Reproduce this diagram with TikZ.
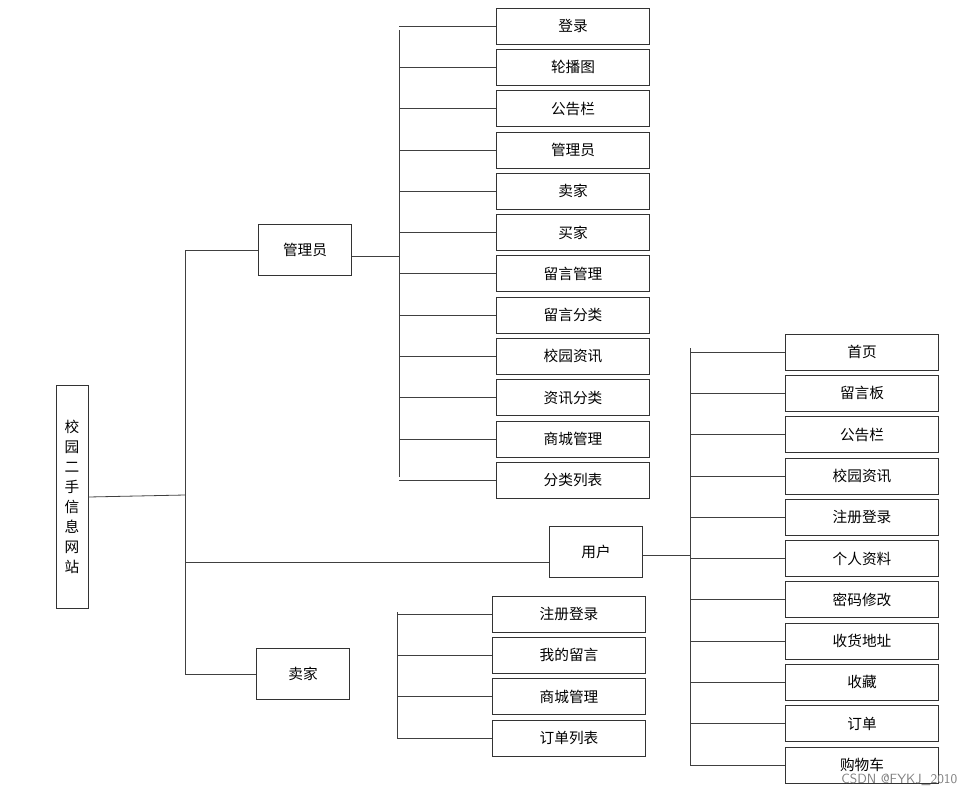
\documentclass[tikz,border=0pt]{standalone}
\usepackage{fontspec}
\newfontfamily\cjk{Noto Sans CJK SC}
\begin{document}
\begin{tikzpicture}[x=0.75pt,y=-0.75pt,
  box/.style={draw=black!80,line width=0.6pt,minimum width=115pt,minimum height=27pt,inner sep=0pt,font=\cjk\fontsize{11}{12}\selectfont},
  mid/.style={draw=black!80,line width=0.6pt,minimum width=70pt,minimum height=38pt,inner sep=0pt,font=\cjk\fontsize{11}{12}\selectfont},
  ln/.style={draw=black!75,line width=0.6pt}]
\useasboundingbox (0,0) rectangle (975,797);
\node[draw=black!80,line width=0.6pt,minimum width=24pt,minimum height=167pt,inner sep=0pt,font=\cjk\fontsize{11}{15}\selectfont,align=center] (root) at (72,497) {校\\园\\二\\手\\信\\息\\网\\站};
\node[mid] (admin) at (305,250) {管理员};
\node[mid] (user) at (596,552) {用户};
\node[mid] (seller) at (303,674) {卖家};
\coordinate (t) at (185,495);
\draw[ln] (root.east) -- (t);
\draw[ln] (admin.west) -| (185,495);
\draw[ln] (seller.west) -| (185,495);
\draw[ln] (user.west |- 0,562) -- (185,562);
% admin children
\foreach \t [count=\i] in {登录,轮播图,公告栏,管理员,卖家,买家,留言管理,留言分类,校园资讯,资讯分类,商城管理,分类列表}{
  \pgfmathsetmacro\yy{26+(\i-1)*41.3}
  \node[box] (a\i) at (573,\yy) {\t};
  \draw[ln] (a\i.west) -- (a\i.west -| 399,0);
}
\draw[ln] (admin.east |- 0,256) -- (399,256);
\draw[ln] (399,30) -- (399,477);
% user children
\foreach \t [count=\i] in {首页,留言板,公告栏,校园资讯,注册登录,个人资料,密码修改,收货地址,收藏,订单,购物车}{
  \pgfmathsetmacro\yy{352+(\i-1)*41.3}
  \node[box] (u\i) at (862,\yy) {\t};
  \draw[ln] (u\i.west) -- (u\i.west -| 690,0);
}
\draw[ln] (user.east |- 0,555) -- (690,555);
\draw[ln] (690,348) -- (690,765);
% seller children
\foreach \t [count=\i] in {注册登录,我的留言,商城管理,订单列表}{
  \pgfmathsetmacro\yy{614+(\i-1)*41.3}
  \node[box] (s\i) at (569,\yy) {\t};
  \draw[ln] (s\i.west) -- (s\i.west -| 397,0);
}
\draw[ln] (397,612) -- (397,738);
\node[font=\fontsize{10}{10}\selectfont\sffamily,text=black!50,anchor=south east] (wm) at (962,790) {CSDN @FYKJ\_2010};
\end{tikzpicture}
\end{document}
